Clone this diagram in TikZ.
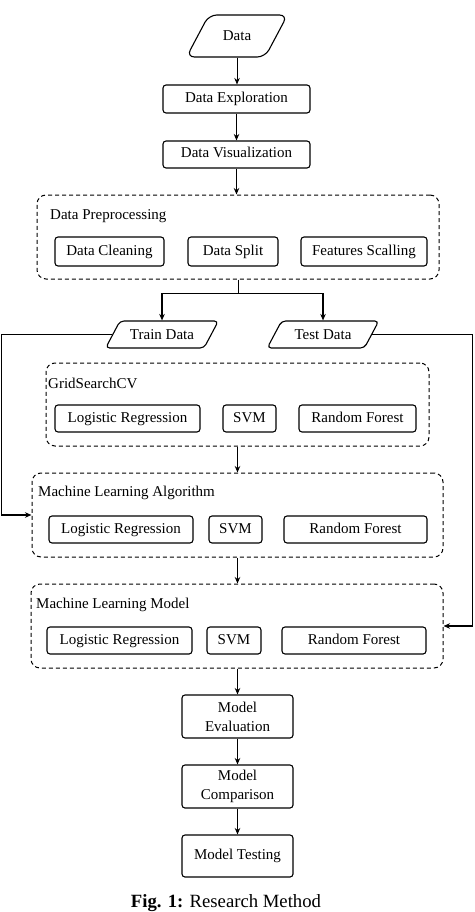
\documentclass[tikz,border=0pt]{standalone}
\usepackage{fontspec}
\setmainfont{Liberation Serif}
\usetikzlibrary{shapes.geometric,arrows.meta}

\begin{document}
\begin{tikzpicture}[x=1pt, y=-1pt, >={Stealth[length=6.5pt,width=5.5pt]},
    every node/.style={font=\fontsize{15}{19}\selectfont},
    stepbox/.style={draw, rounded corners=3pt, line width=1.1pt, inner sep=0pt, align=center,
      text height=10pt, text depth=3pt},
    twostepbox/.style={stepbox, text height={}, text depth={}, minimum width=111pt, minimum height=43pt},
    groupbox/.style={draw, dash pattern=on 4pt off 3pt, rounded corners=9pt, line width=1pt, inner sep=0pt},
    iobox/.style={draw, trapezium, trapezium left angle=62, trapezium right angle=118,
      rounded corners=4pt, line width=1.1pt, text height=10pt, text depth=0pt, inner ysep=8.5pt},
    grouplabel/.style={anchor=west, inner sep=0pt},
    flow/.style={->, line width=0.9pt}]
        \useasboundingbox (0,0) rectangle (474,912);

        % input, exploration and visualization
        \node[iobox, inner xsep=14pt, inner ysep=16pt, rounded corners=8pt] (data) at (237,36) {Data};
        \node[stepbox, minimum width=147pt, minimum height=28pt] (explore) at (236.5,99) {Data Exploration};
        \node[stepbox, minimum width=147pt, minimum height=27pt] (visual) at (236.5,154.5) {Data Visualization};

        % preprocessing
        \node[groupbox, minimum width=402pt, minimum height=84pt] (prep) at (238,237) {};
        \node[grouplabel] (preplabel) at (50,216) {Data Preprocessing};
        \node[stepbox, minimum width=109pt, minimum height=29pt] (clean) at (109.5,251.5) {Data Cleaning};
        \node[stepbox, minimum width=90pt, minimum height=29pt] (split) at (233,251.5) {Data Split};
        \node[stepbox, minimum width=126pt, minimum height=29pt] (scale) at (364,251.5) {Features Scalling};

        % split data
        \node[iobox, inner xsep=10pt] (train) at (162,334.5) {Train Data};
        \node[iobox, inner xsep=13pt] (test) at (323,334.5) {Test Data};

        % grid search
        \node[groupbox, minimum width=383pt, minimum height=83pt] (grid) at (237.5,404.5) {};
        \node[grouplabel] (gridlabel) at (48,383) {GridSearchCV};
        \node[stepbox, minimum width=145pt, minimum height=27pt] (glr) at (127.5,418.5) {Logistic Regression};
        \node[stepbox, minimum width=53pt, minimum height=27pt] (gsvm) at (249.5,418.5) {SVM};
        \node[stepbox, minimum width=117pt, minimum height=27pt] (grf) at (357.5,418.5) {Random Forest};

        % algorithm
        \node[groupbox, minimum width=411pt, minimum height=84pt] (alg) at (237.5,515) {};
        \node[grouplabel] (alglabel) at (38,493) {Machine Learning Algorithm};
        \node[stepbox, minimum width=144pt, minimum height=27pt] (alr) at (121,529.5) {Logistic Regression};
        \node[stepbox, minimum width=53pt, minimum height=27pt] (asvm) at (235.5,529.5) {SVM};
        \node[stepbox, minimum width=143pt, minimum height=27pt] (arf) at (355.5,529.5) {Random Forest};

        % model
        \node[groupbox, minimum width=412pt, minimum height=84pt] (model) at (237,626) {};
        \node[grouplabel] (modellabel) at (36,605) {Machine Learning Model};
        \node[stepbox, minimum width=145pt, minimum height=27pt] (mlr) at (119.5,640.5) {Logistic Regression};
        \node[stepbox, minimum width=54pt, minimum height=27pt] (msvm) at (234,640.5) {SVM};
        \node[stepbox, minimum width=144pt, minimum height=27pt] (mrf) at (354,640.5) {Random Forest};

        % evaluation
        \node[twostepbox] (eval) at (237.5,716.5) {Model\\Evaluation};
        \node[twostepbox] (comp) at (237.5,786.5) {Model\\Comparison};
        \node[stepbox, minimum width=111pt, minimum height=42pt] (testing) at (237.5,856) {Model Testing};

        \node[font=\fontsize{18.7}{22}\selectfont] (caption) at (226,903) {\textbf{Fig. 1:} Research Method};

        % connectors
        \coordinate (leftrail) at (1.5,0);
        \coordinate (rightrail) at (472.5,0);
        \draw[flow] (data.south) -- (data.south |- explore.north);
        \draw[flow] (explore) -- (visual);
        \draw[flow] (visual.south) -- (visual.south |- prep.north);
        \draw[line width=0.9pt] (prep.south) -- ++(0,14) coordinate (fork);
        \draw[flow, line width=1.1pt] (fork) -| (train.north);
        \draw[flow, line width=1.1pt] (fork) -| (test.north);
        \draw[flow, line width=1.2pt] (train.west) -- (train.west -| leftrail) |- (alg.west);
        \draw[flow, line width=1.2pt] (test.east) -- (test.east -| rightrail) |- (model.east);
        \draw[flow] (grid.south) -- (grid.south |- alg.north);
        \draw[flow] (alg.south) -- (alg.south |- model.north);
        \draw[flow] (model.south -| eval) -- (eval.north);
        \draw[flow] (eval) -- (comp);
        \draw[flow] (comp) -- (testing);
\end{tikzpicture}
\end{document}
